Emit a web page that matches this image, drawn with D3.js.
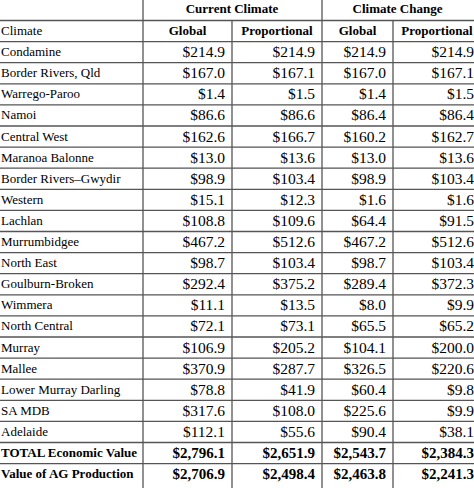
<!DOCTYPE html>
<html><head><meta charset="utf-8">
<script src="https://cdn.jsdelivr.net/npm/d3@7"></script>
<style>body{margin:0;background:#fff}svg{display:block}</style></head>
<body><svg id="c" width="474" height="488"></svg>
<script>
const regions=["Condamine","Border Rivers, Qld","Warrego-Paroo","Namoi","Central West","Maranoa Balonne","Border Rivers–Gwydir","Western","Lachlan","Murrumbidgee","North East","Goulburn-Broken","Wimmera","North Central","Murray","Mallee","Lower Murray Darling","SA MDB","Adelaide"];
const currentGlobal=[214.9,167.0,1.4,86.6,162.6,13.0,98.9,15.1,108.8,467.2,98.7,292.4,11.1,72.1,106.9,370.9,78.8,317.6,112.1];
const currentProp=[214.9,167.1,1.5,86.6,166.7,13.6,103.4,12.3,109.6,512.6,103.4,375.2,13.5,73.1,205.2,287.7,41.9,108.0,55.6];
const changeGlobal=[214.9,167.0,1.4,86.4,160.2,13.0,98.9,1.6,64.4,467.2,98.7,289.4,8.0,65.5,104.1,326.5,60.4,225.6,90.4];
const changeProp=[214.9,167.1,1.5,86.4,162.7,13.6,103.4,1.6,91.5,512.6,103.4,372.3,9.9,65.2,200.0,220.6,9.8,9.9,38.1];
const totalLabels=["TOTAL Economic Value","Value of AG Production"];
const totalRows=[[2796.1,2651.9,2543.7,2384.3],[2706.9,2498.4,2463.8,2241.3]];
const groupHeaders=["Current Climate","Climate Change"];
const subHeaders=["Global","Proportional","Global","Proportional"];

const svg=d3.select("#c");
const fmt=v=>"$"+d3.format(",.1f")(v);
const rowKeys=d3.range(23);
const rh=21.1;
const y=d3.scaleBand().domain(rowKeys).range([20.5-rh,20.5-rh+rh*23]);
const colEdges=[0,143,232,322,393,481];
const line="#555";
const g=svg.append("g");
// horizontal lines
rowKeys.slice(1).forEach(k=>{
  g.append("line").attr("x1",k===1?0:0).attr("x2",481).attr("y1",y(k)).attr("y2",y(k))
   .attr("stroke",line).attr("stroke-width",1.3);
});
// header row line only spans from 143 for top? row1 top line spans full
// vertical lines
[143,322,481].forEach(x=>g.append("line").attr("x1",x).attr("x2",x).attr("y1",0).attr("y2",488).attr("stroke",line).attr("stroke-width",1.3));
[232,393].forEach(x=>g.append("line").attr("x1",x).attr("x2",x).attr("y1",y(1)).attr("y2",488).attr("stroke",line).attr("stroke-width",1.3));
const ty=k=>y(k)+y.bandwidth()/2+5;
const serif="'Liberation Serif','Times New Roman',serif";
groupHeaders.forEach((h,i)=>{
  svg.append("text").attr("x",i===0?232:(322+481)/2-4).attr("y",ty(0)-2).attr("text-anchor","middle")
   .attr("font-family",serif).attr("font-weight","bold").attr("font-size",13).text(h);
});
svg.append("text").attr("x",1).attr("y",ty(1)-1).attr("font-family",serif).attr("font-size",13).text("Climate");
subHeaders.forEach((h,i)=>{
  svg.append("text").attr("x",(colEdges[i+1]+colEdges[i+2])/2).attr("y",ty(1)-1).attr("text-anchor","middle")
   .attr("font-family",serif).attr("font-weight","bold").attr("font-size",13).text(h);
});
const cols=[currentGlobal,currentProp,changeGlobal,changeProp];
regions.forEach((r,i)=>{
  const k=i+2;
  svg.append("text").attr("x",1).attr("y",ty(k)-1).attr("font-family",serif).attr("font-size",13).text(r);
  cols.forEach((c,j)=>{
    svg.append("text").attr("x",colEdges[j+2]-7).attr("y",ty(k)).attr("text-anchor","end")
     .attr("font-family",serif).attr("font-size",15.5).text(fmt(c[i]));
  });
});
totalLabels.forEach((t,i)=>{
  const k=21+i;
  svg.append("text").attr("x",1).attr("y",ty(k)-1).attr("font-family",serif).attr("font-weight","bold").attr("font-size",13).text(t);
  totalRows[i].forEach((v,j)=>{
    svg.append("text").attr("x",colEdges[j+2]-7).attr("y",ty(k)).attr("text-anchor","end")
     .attr("font-family",serif).attr("font-weight","bold").attr("font-size",15).text(fmt(v));
  });
});
</script></body></html>
